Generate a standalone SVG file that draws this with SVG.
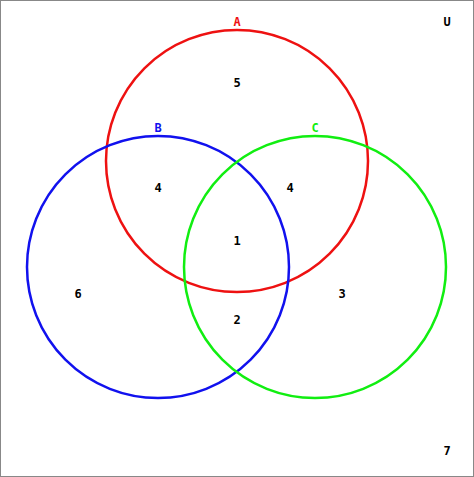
<svg xmlns="http://www.w3.org/2000/svg" width="474" height="477" viewBox="0 0 474 477">
<style>
text{font-family:"DejaVu Sans Mono","Liberation Mono",monospace;font-size:12px;font-weight:bold;text-anchor:middle;dominant-baseline:middle}
circle{fill:none;stroke-width:2.5}
</style>
<rect x="0" y="0" width="474" height="477" fill="#fff"/>
<rect x="0.5" y="0.5" width="473" height="476" fill="none" stroke="#888" stroke-width="1"/>
<g id="A"><circle cx="237" cy="161" r="131" stroke="#ee1111"/><text x="237" y="22" fill="#ee1111">A</text></g>
<g id="B"><circle cx="158" cy="267" r="131" stroke="#1111ee"/><text x="158" y="128" fill="#1111ee">B</text></g>
<g id="C"><circle cx="315" cy="267" r="131" stroke="#11ee11"/><text x="315" y="128" fill="#11ee11">C</text></g>
<g id="labels">
<text x="447" y="22">U</text>
<text x="237" y="83">5</text>
<text x="158" y="188">4</text>
<text x="290" y="188">4</text>
<text x="237" y="241">1</text>
<text x="78" y="294">6</text>
<text x="342" y="294">3</text>
<text x="237" y="320">2</text>
<text x="447" y="451">7</text>
</g>
</svg>
